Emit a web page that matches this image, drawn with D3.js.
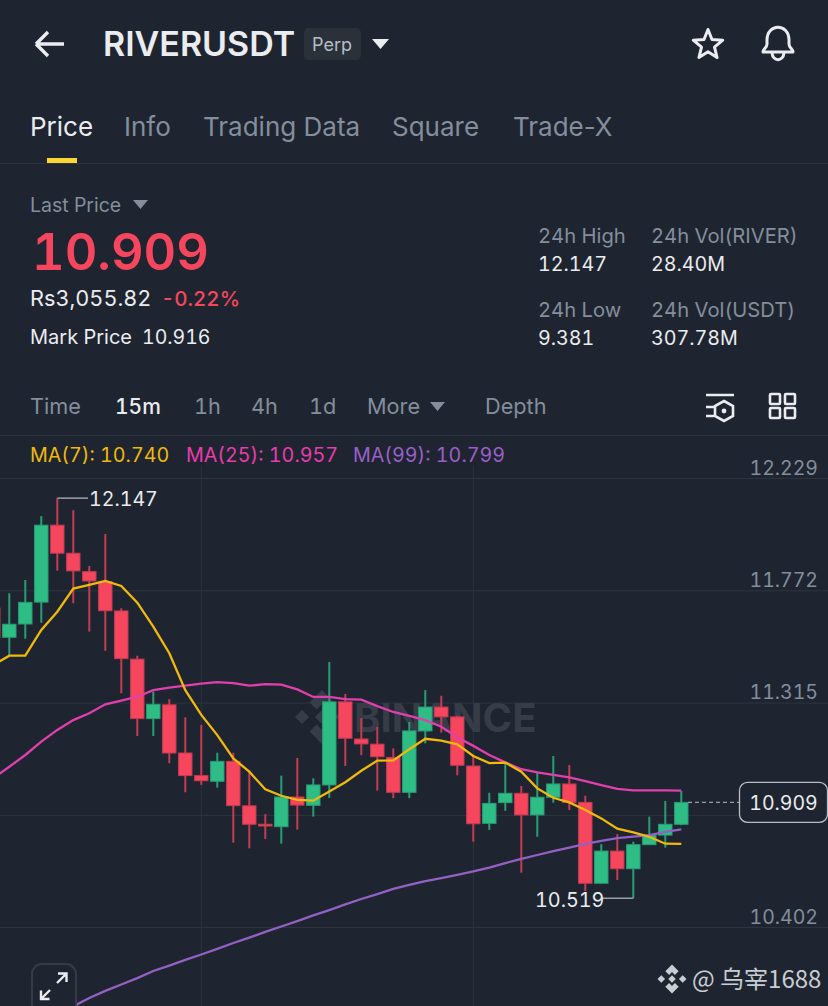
<!DOCTYPE html>
<html>
<head>
<meta charset="utf-8">
<script src="https://cdn.jsdelivr.net/npm/d3@7"></script>
<style>
  html, body { margin: 0; padding: 0; background: #1E2530; }
  svg { display: block; font-family: Inter, Roboto, sans-serif; font-feature-settings: "tnum"; }
</style>
</head>
<body>
<svg id="chart" width="828" height="1006"></svg>
<script>
// candles, oldest first. first one is cut off by the left edge
const candleOpen  = [11.70,11.581,11.635,11.724,12.037,11.923,11.848,11.807,11.688,11.492,11.250,11.306,11.110,11.018,10.995,11.076,10.895,10.820,10.810,10.931,10.897,10.980,11.318,11.167,11.146,11.092,10.950,11.200,11.297,11.257,11.057,10.824,10.908,10.946,10.858,10.930,10.984,10.909,10.580,10.711,10.639,10.737,10.776,10.820];
const candleClose = [11.58,11.634,11.723,12.037,11.923,11.851,11.810,11.689,11.494,11.250,11.308,11.110,11.018,10.997,11.076,10.896,10.820,10.813,10.931,10.898,10.980,11.318,11.170,11.147,11.095,10.950,11.200,11.297,11.257,11.060,10.822,10.905,10.946,10.858,10.930,10.984,10.909,10.580,10.711,10.639,10.737,10.776,10.820,10.909];
const candleHigh  = [11.72,11.760,11.814,12.074,12.147,12.098,11.871,12.001,11.699,11.506,11.359,11.329,11.255,11.224,11.111,11.111,11.034,10.861,11.018,11.090,11.007,11.480,11.350,11.252,11.216,11.129,11.236,11.366,11.343,11.262,11.098,10.948,11.068,10.976,11.034,11.098,11.061,10.936,10.739,10.780,10.749,10.851,10.915,10.955];
const candleLow   = [11.55,11.506,11.575,11.640,11.852,11.719,11.604,11.526,11.353,11.179,11.179,11.068,10.950,10.980,10.969,10.745,10.722,10.760,10.741,10.798,10.851,10.927,11.057,11.101,10.957,10.926,10.926,11.149,11.193,11.019,10.749,10.797,10.875,10.623,10.769,10.908,10.878,10.548,10.580,10.593,10.519,10.739,10.725,10.816];

const ma7  = [11.468,11.506,11.506,11.611,11.685,11.779,11.794,11.810,11.790,11.722,11.624,11.516,11.366,11.265,11.183,11.088,11.034,10.962,10.936,10.919,10.916,10.953,10.991,11.038,11.079,11.080,11.125,11.168,11.160,11.145,11.098,11.069,11.071,11.034,10.966,10.928,10.909,10.878,10.844,10.802,10.787,10.769,10.741,10.740];
const ma25 = [11.008,11.054,11.102,11.156,11.204,11.244,11.272,11.308,11.323,11.339,11.366,11.376,11.384,11.392,11.398,11.394,11.384,11.390,11.388,11.369,11.338,11.338,11.329,11.327,11.301,11.277,11.261,11.244,11.217,11.174,11.139,11.102,11.072,11.044,11.031,11.021,11.011,10.996,10.979,10.964,10.958,10.958,10.958,10.957];
const ma99 = [null,null,null,null,null,10.079,10.113,10.142,10.168,10.194,10.223,10.245,10.268,10.290,10.313,10.337,10.359,10.382,10.404,10.426,10.449,10.471,10.494,10.516,10.536,10.557,10.573,10.589,10.601,10.614,10.628,10.644,10.662,10.679,10.695,10.711,10.725,10.740,10.752,10.764,10.770,10.776,10.789,10.799];

const priceTicks = [12.229, 11.772, 11.315, 10.858, 10.402];
const tickLabels = ["12.229", "11.772", "11.315", "", "10.402"];
const timeGrid = [13, 30]; // candle index of the two vertical grid lines

const tabs = ["Price", "Info", "Trading Data", "Square", "Trade-X"];
const tabX = [30, 124, 203, 392, 513];
const intervals = ["Time", "15m", "1h", "4h", "1d", "More", "Depth"];
const intervalX = [30, 115, 194, 251, 309, 367, 485];

const bg = "#1E2530", white = "#EAECEF", grey = "#848E9C", gridCol = "#2E343F";
const red = "#F6465D", green = "#2EBD85";

const svg = d3.select("#chart");
svg.append("rect").attr("width", 828).attr("height", 1006).attr("fill", bg);

function label(x, y, str, size, fill, weight, anchor) {
  return svg.append("text").attr("x", x).attr("y", y).text(str)
    .attr("font-size", size).attr("fill", fill)
    .attr("font-weight", weight || 400)
    .attr("text-anchor", anchor || "start");
}

// binance diamond logo, centred on 0,0
function logo(g, s, fill) {
  g.append("path")
    .attr("d", "M0,-10 L4.6,-5.4 L2,-2.8 L0,-4.8 L-2,-2.8 L-4.6,-5.4 Z M0,10 L4.6,5.4 L2,2.8 L0,4.8 L-2,2.8 L-4.6,5.4 Z M-10,0 L-7.4,-2.6 L-4.8,0 L-7.4,2.6 Z M10,0 L7.4,-2.6 L4.8,0 L7.4,2.6 Z M0,-2.6 L2.6,0 L0,2.6 L-2.6,0 Z")
    .attr("transform", `scale(${s})`)
    .attr("fill", fill);
}

// ---- header
svg.append("path").attr("d", "M36,44 H64 M36,44 L48,32 M36,44 L48,56")
  .attr("fill", "none").attr("stroke", white).attr("stroke-width", 3.4);
label(103, 56, "RIVERUSDT", 34, white, 600);
svg.append("rect").attr("x", 304).attr("y", 28).attr("width", 57).attr("height", 32).attr("rx", 5).attr("fill", "#2B3139");
label(312, 51, "Perp", 18, "#B7BDC6");
svg.append("path").attr("d", "M372,39 H389 L380.5,49 Z").attr("fill", white);

const star = d3.range(10).map(i => {
  const r = i % 2 ? 6.8 : 15.5, a = i * Math.PI / 5;
  return [708 + r * Math.sin(a), 45 - r * Math.cos(a)];
});
svg.append("path").attr("d", d3.line().curve(d3.curveLinearClosed)(star))
  .attr("fill", "none").attr("stroke", white).attr("stroke-width", 3).attr("stroke-linejoin", "round");
svg.append("path").attr("d", "M767,44 V40 C767,23 789,23 789,40 V44 C789,48 793,49 793,52 H763 C763,49 767,48 767,44 Z M772,53 C773,62 783,62 784,53")
  .attr("fill", "none").attr("stroke", white).attr("stroke-width", 3).attr("stroke-linejoin", "round");

// ---- tabs
tabs.forEach((t, i) => label(tabX[i], 136, t, 26, i === 0 ? white : grey, 400).style("font-feature-settings", "normal"));
svg.append("rect").attr("x", 47).attr("y", 158).attr("width", 30).attr("height", 5).attr("fill", "#FCD535");
svg.append("line").attr("x1", 0).attr("x2", 828).attr("y1", 163.5).attr("y2", 163.5).attr("stroke", gridCol);

// ---- price block
label(30, 212, "Last Price", 19.5, grey);
svg.append("path").attr("d", "M133,200 H148 L140.5,209 Z").attr("fill", grey);
label(32, 270, "10.909", 50.5, red, 600);
label(30, 306, "Rs3,055.82", 21.7, white);
label(161, 306, "-0.22%", 20.5, red, 500);
label(30, 344, "Mark Price", 20, white);
label(142, 344, "10.916", 19.5, white);

label(538, 243, "24h High", 20.2, grey);
label(538, 271, "12.147", 19.7, white);
label(538, 317, "24h Low", 20.2, grey);
label(538, 345, "9.381", 19.7, white);
label(651, 243, "24h Vol(RIVER)", 20.2, grey);
label(651, 271, "28.40M", 19.7, white);
label(651, 317, "24h Vol(USDT)", 20.2, grey);
label(651, 345, "307.78M", 19.7, white);

// ---- interval row
intervals.forEach((t, i) => label(intervalX[i], 414, t, i === 1 ? 21 : 21.7, i === 1 ? white : grey, i === 1 ? 500 : 400));
svg.append("path").attr("d", "M430,402 H445 L437.5,411 Z").attr("fill", grey);

const tool = svg.append("g").attr("fill", "none").attr("stroke", white).attr("stroke-width", 2.6);
tool.append("path").attr("d", "M706,395 H734 M706,407 H716 M706,416 H714");
tool.append("path").attr("d", "M724,401 L733,406 V416 L724,421 L715,416 V406 Z");
svg.append("circle").attr("cx", 724).attr("cy", 411).attr("r", 2.4).attr("fill", white);
[[770, 394], [785, 394], [770, 408], [785, 408]].forEach(p =>
  tool.append("rect").attr("x", p[0]).attr("y", p[1]).attr("width", 10).attr("height", 10).attr("rx", 1));

svg.append("line").attr("x1", 0).attr("x2", 828).attr("y1", 435.5).attr("y2", 435.5).attr("stroke", gridCol);

// ---- chart scales
const x = d3.scaleLinear().domain([0, 43]).range([-6.7, 681.3]);
const y = d3.scaleLinear().domain([10.402, 12.229]).range([927, 478]);

const yAxis = d3.axisRight(y).tickValues(priceTicks).tickSize(828)
  .tickFormat((d, i) => tickLabels[i]);
const axisG = svg.append("g").call(yAxis);
axisG.select(".domain").remove();
axisG.selectAll(".tick line").attr("stroke", gridCol);
axisG.selectAll(".tick text")
  .attr("x", 818).attr("dy", -4).attr("text-anchor", "end")
  .attr("font-size", 19.5).attr("font-family", "Inter, Roboto, sans-serif").attr("fill", grey);

svg.selectAll(".vgrid").data(timeGrid).enter().append("line")
  .attr("class", "vgrid")
  .attr("x1", d => x(d)).attr("x2", d => x(d))
  .attr("y1", 465).attr("y2", 1006)
  .attr("stroke", gridCol);

// watermark
const wm = svg.append("g").attr("transform", "translate(322,717)");
logo(wm, 2.7, "#373D48");
svg.append("text").attr("x", 354).attr("y", 732).text("BINANCE")
  .attr("font-size", 40).attr("font-weight", 700).attr("fill", "#373D48");

// ma legend
label(30, 462, "MA(7): 10.740", 19.7, "#F0B90B");
label(186, 462, "MA(25): 10.957", 19.7, "#E93CAC");
label(353, 462, "MA(99): 10.799", 19.7, "#9B5FC9");

// ---- candles
const candles = candleOpen.map((o, i) => ({ i, o, c: candleClose[i], h: candleHigh[i], l: candleLow[i], up: candleClose[i] >= o }));
const candleG = svg.selectAll(".candle").data(candles).enter().append("g").attr("class", "candle");
candleG.append("line")
  .attr("x1", d => x(d.i)).attr("x2", d => x(d.i))
  .attr("y1", d => y(d.h)).attr("y2", d => y(d.l))
  .attr("stroke", d => d.up ? "#2A9D76" : "#C43C52")
  .attr("stroke-width", 2);
candleG.append("rect")
  .attr("x", d => x(d.i) - 6.7).attr("width", 13.4)
  .attr("y", d => y(Math.max(d.o, d.c)))
  .attr("height", d => Math.max(1, Math.abs(y(d.o) - y(d.c))))
  .attr("fill", d => d.up ? green : red)
  .attr("stroke", d => d.up ? "#2A9D76" : "#C43C52")
  .attr("stroke-width", 1);

// ---- moving averages
const maLine = d3.line().defined(d => d != null).x((d, i) => x(i)).y(d => y(d));
[[ma99, "#9460C4"], [ma25, "#E23FAE"], [ma7, "#F0B90B"]].forEach(s => {
  svg.append("path").attr("d", maLine(s[0]))
    .attr("fill", "none").attr("stroke", s[1]).attr("stroke-width", 2.3);
});

// ---- high / low markers
const hiI = candleHigh.indexOf(d3.max(candleHigh)), loI = candleLow.indexOf(d3.min(candleLow));
svg.append("line").attr("x1", x(hiI)).attr("x2", 88).attr("y1", y(12.147)).attr("y2", y(12.147)).attr("stroke", "#9AA0A8").attr("stroke-width", 1.5);
label(89, 506, "12.147", 19.6, white);
svg.append("line").attr("x1", 603).attr("x2", x(loI)).attr("y1", y(10.519)).attr("y2", y(10.519)).attr("stroke", "#9AA0A8").attr("stroke-width", 1.5);
label(535, 907, "10.519", 19.8, white);

// ---- last price tag
const lastY = y(10.909);
svg.append("line").attr("x1", 688).attr("x2", 739).attr("y1", lastY).attr("y2", lastY)
  .attr("stroke", "#9AA0A8").attr("stroke-width", 1.3).attr("stroke-dasharray", "4 3");
svg.append("rect").attr("x", 739.5).attr("y", lastY - 20).attr("width", 88).attr("height", 40).attr("rx", 8)
  .attr("fill", bg).attr("stroke", "#B7BDC6").attr("stroke-width", 1.3);
label(783.5, lastY + 8, "10.909", 19.5, white, 400, "middle");

// ---- expand button
svg.append("rect").attr("x", 32).attr("y", 964).attr("width", 44).attr("height", 50).attr("rx", 10)
  .attr("fill", bg).attr("stroke", "#363C47").attr("stroke-width", 2);
svg.append("path").attr("d", "M57,983 L66,974 M58,973.5 H66.5 V982 M50,990 L41,999 M41,990.5 V999 H49.5")
  .attr("fill", "none").attr("stroke", white).attr("stroke-width", 2.4);

// ---- footer watermark
const fm = svg.append("g").attr("transform", "translate(672,979)");
logo(fm, 1.45, "#C9CDD3");
svg.append("text").attr("x", 692).attr("y", 988).text("@ 乌宰1688")
  .attr("font-size", 24).attr("fill", "#C9CDD3")
  .attr("font-family", "'Noto Sans CJK SC', Inter, sans-serif");
</script>
</body>
</html>
